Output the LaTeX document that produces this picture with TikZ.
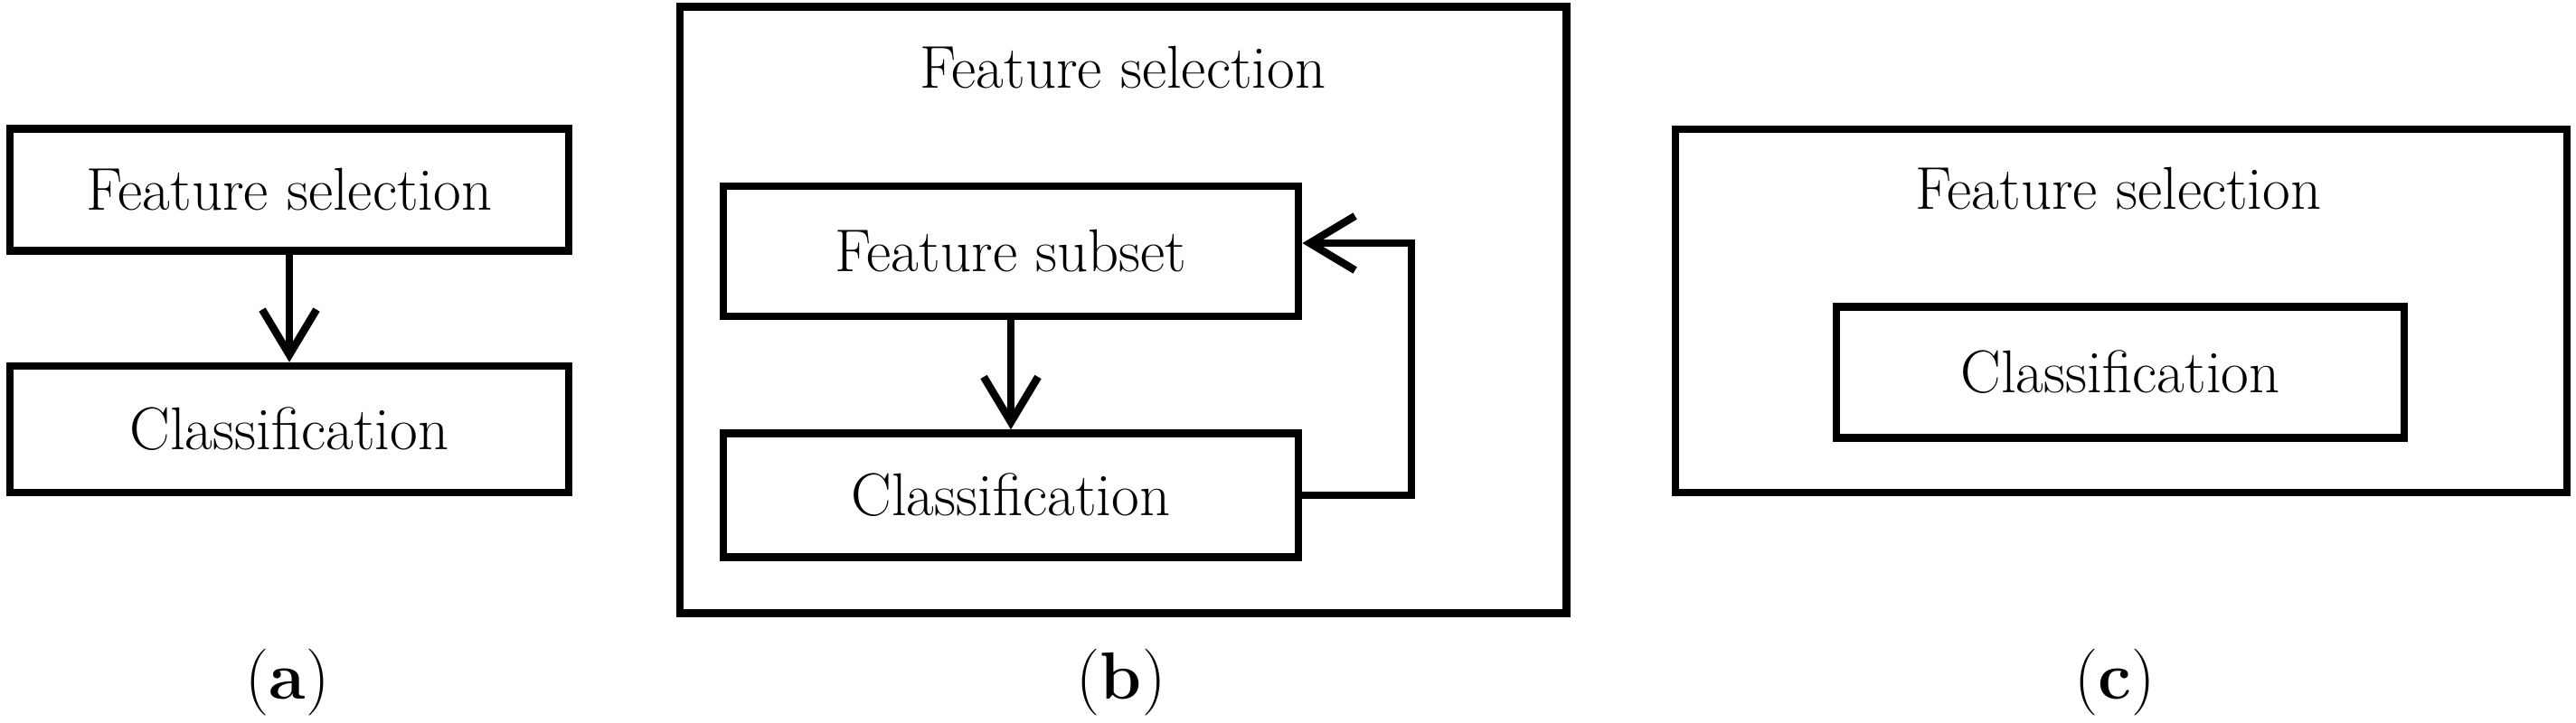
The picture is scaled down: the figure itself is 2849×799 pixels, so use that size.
\documentclass[tikz,border=0pt]{standalone}
\usetikzlibrary{arrows.meta,positioning}
\tikzset{
    every picture/.style = {
        > = {Straight Barb[length=5mm,width=6mm]},
        line width = 2.4pt
    },
    box/.style = {
        draw,
        inner sep = 0pt,
        font = \fontsize{19}{22}\selectfont
    },
    title/.style = {
        inner sep = 0pt,
        font = \fontsize{19}{22}\selectfont
    },
    tag/.style = {
        inner sep = 0pt,
        font = \fontsize{21}{24}\selectfont
    }
}

\begin{document}
\begin{tikzpicture}[x = 0.01cm, y = -0.01cm]
    \useasboundingbox (0, 0) rectangle (2849, 799);

    % (a)
    \node[box, minimum width = 6.18cm, minimum height = 1.35cm] (fsa) at (320, 210) {Feature selection};
    \node[box, minimum width = 6.18cm, minimum height = 1.40cm] (cla) at (320, 475) {Classification};
    \draw[->] (fsa) -- (cla);
    \node[tag] (ta) at (318, 755) {(\textbf{a})};

    % (b)
    \node[box, minimum width = 9.80cm, minimum height = 6.71cm] (outb) at (1242, 343) {};
    \node[title] (fsb) at (1242, 75) {Feature selection};
    \node[box, minimum width = 6.36cm, minimum height = 1.44cm] (sub) at (1118, 278) {Feature subset};
    \node[box, minimum width = 6.36cm, minimum height = 1.37cm] (clb) at (1118, 548) {Classification};
    \coordinate (turn) at (1561, 548);
    \draw[->] (sub) -- (clb);
    \draw[->] (clb) -- (turn) |- (sub.east |- 0, 269);
    \node[tag] (tb) at (1240, 755) {(\textbf{b})};

    % (c)
    \node[box, minimum width = 9.85cm, minimum height = 4.02cm] (outc) at (2346, 344) {};
    \node[title] (fsc) at (2343, 209) {Feature selection};
    \node[box, minimum width = 6.28cm, minimum height = 1.45cm] (clc) at (2345, 412) {Classification};
    \node[tag] (tc) at (2339, 755) {(\textbf{c})};
\end{tikzpicture}
\end{document}
